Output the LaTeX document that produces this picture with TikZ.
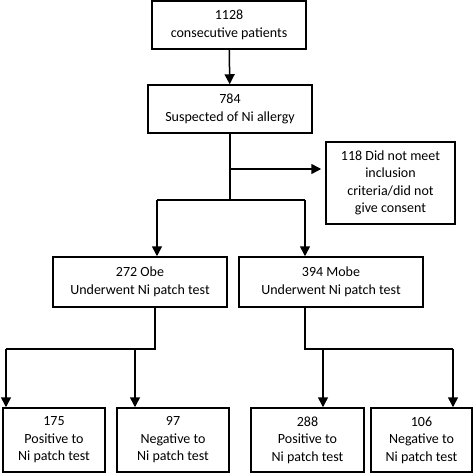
\documentclass[tikz,border=0pt]{standalone}
\usepackage{fontspec}
\setmainfont{Carlito}
\usetikzlibrary{arrows.meta, positioning, calc}

\begin{document}
\begin{tikzpicture}[
    x=1pt, y=-1pt,
    >={Triangle[width=10pt, length=10pt]},
    box/.style={draw, line width=1.5pt, align=center, inner sep=1pt,
                font=\fontsize{14}{17.5}\selectfont},
    arr/.style={->, line width=1.5pt},
    ln/.style={line width=1.5pt},
]
\useasboundingbox (0,0) rectangle (474,474);
% ------------------------------------------------ screening
\node[box, minimum width=154pt, minimum height=48pt] (pat) at (229,25) {1128\\consecutive patients};
\node[box, minimum width=164pt, minimum height=48pt] (sus) at (230,109) {784\\Suspected of Ni allergy};
\node[box, minimum width=129pt, minimum height=82pt] (excl) at (390.5,183) {118 Did not meet\\inclusion\\criteria/did not\\give consent};
\draw[arr] (pat) -- (sus);
\coordinate (e1) at (230,169);
\coordinate (s1) at (230,200);
\draw[ln] (sus) -- (s1);
\draw[arr, shorten >=4pt] (e1) -- (e1 -| excl.west);
% ------------------------------------------------ the two groups
\node[box, minimum width=174pt, minimum height=50pt] (obe) at (140,282) {272 Obe\\Underwent Ni patch test};
\node[box, minimum width=184pt, minimum height=50pt] (mobe) at (331,282) {394 Mobe\\Underwent Ni patch test};
\coordinate (s1l) at (157,200);
\coordinate (s1r) at (305,200);
\draw[ln] (s1l) -- (s1r);
\draw[arr] (s1l) -- (s1l |- obe.north);
\draw[arr] (s1r) -- (s1r |- mobe.north);
% ------------------------------------------------ patch test results
\node[box, minimum width=102pt, minimum height=64pt] (pos1) at (54,440) {175\\Positive to\\Ni patch test};
\node[box, minimum width=112pt, minimum height=64pt] (neg1) at (173,440) {97\\Negative to\\Ni patch test};
\node[box, minimum width=113pt, minimum height=64pt] (pos2) at (307.5,440) {288\\Positive to\\Ni patch test};
\node[box, minimum width=101pt, minimum height=64pt] (neg2) at (421.5,440) {106\\Negative to\\Ni patch test};
\coordinate (s2) at (155,349);
\coordinate (s2l) at (6,349);
\coordinate (s2m) at (135,349);
\draw[ln] (s2 |- obe.south) -- (s2) -- (s2l);
\draw[arr] (s2l) -- (s2l |- pos1.north);
\draw[arr] (s2m) -- (s2m |- neg1.north);
\coordinate (s3) at (305,349);
\coordinate (s3m) at (323,349);
\coordinate (s3r) at (453,349);
\draw[ln] (s3 |- mobe.south) -- (s3) -- (s3r);
\draw[arr] (s3m) -- (s3m |- pos2.north);
\draw[arr] (s3r) -- (s3r |- neg2.north);
\end{tikzpicture}
\end{document}
